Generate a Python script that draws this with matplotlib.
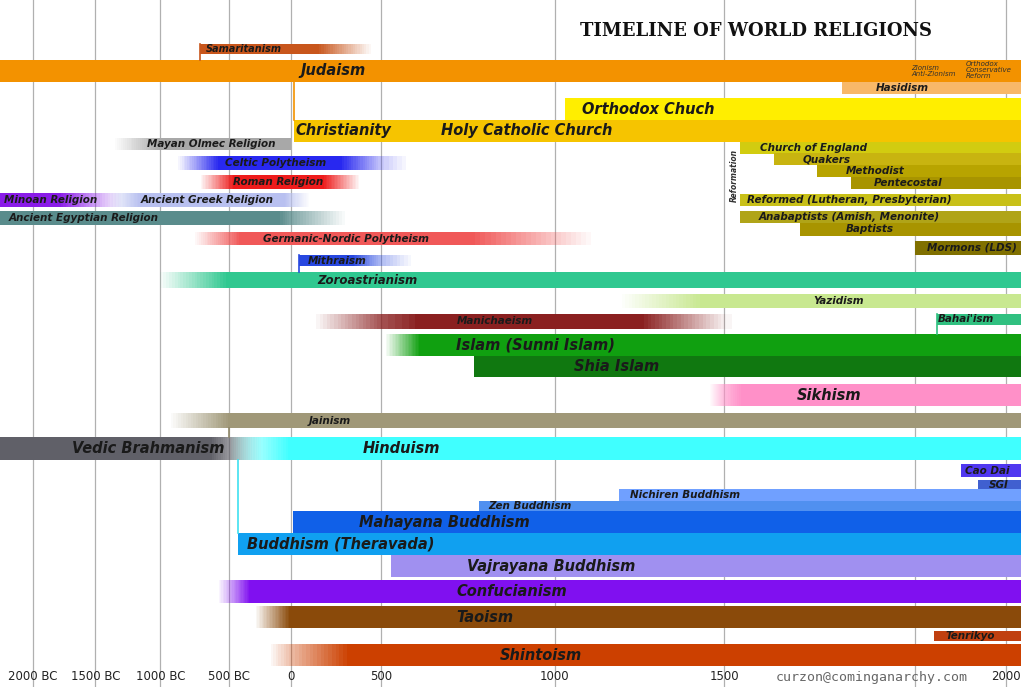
import numpy as np
import matplotlib.pyplot as plt

# ---------------------------------------------------------
# x scale of the original is piecewise linear
# ---------------------------------------------------------
knot_years = [-2266, -2000, -1500, -1000, -500, 0, 500, 1000, 1500, 1800, 2000, 2040]
knot_pos = [0, 33, 95, 160, 228, 290, 380, 553, 722, 912, 1003, 1021]

tick_years = [-2000, -1500, -1000, -500, 0, 500, 1000, 1500, 2000]
tick_labels = ["2000 BC", "1500 BC", "1000 BC", "500 BC", "0", "500", "1000", "1500", "2000"]
grid_years = [-2000, -1500, -1000, -500, 0, 500, 1000, 1500, 1800, 2000]

# ---------------------------------------------------------
# bars: name, start, end, row top, row height, colour, fade in, fade out
# ---------------------------------------------------------
names = ["Samaritanism", "Judaism", "Hasidism", "Orthodox Chuch", "Holy Catholic Church",
         "Mayan Olmec Religion", "Church of England", "Celtic Polytheism", "Quakers", "Methodist",
         "Roman Religion", "Pentecostal", "Minoan Religion", "Ancient Greek Religion",
         "Reformed (Lutheran, Presbyterian)", "Ancient Egyptian Religion",
         "Anabaptists (Amish, Menonite)", "Baptists", "Germanic-Nordic Polytheism",
         "Mormons (LDS)", "Mithraism", "Zoroastrianism", "Yazidism", "Manichaeism", "Bahai'ism",
         "Islam (Sunni Islam)", "Shia Islam", "Sikhism", "Jainism", "Vedic Brahmanism", "Hinduism",
         "Cao Dai", "SGI", "Nichiren Buddhism", "Zen Buddhism", "Mahayana Buddhism",
         "Buddhism (Theravada)", "Vajrayana Buddhism", "Confucianism", "Taoism", "Tenrikyo",
         "Shintoism"]
E = 2033
starts = [-713, -2266, 1686, 1030, 17, -1346, 1525, -868, 1579, 1647, -706, 1699, -2266, -1400,
          1525, -2266, 1525, 1620, -750, 1800, 44, -1000, 1198, 139, 1848, 514, 769, 1459, -926,
          -2266, -484, 1901, 1938, 1189, 783, 11, -427, 529, -574, -282, 1842, -161]
ends = [444, E, E, E, E, 0, E, 572, E, E, 378, E, -1300, 100, E, 300,
        E, E, 1107, E, 587, E, E, 1513, E, E, E, E, E, -242, E,
        E, E, E, E, E, E, E, E, E, E, E]
tops = [44, 60, 82, 98, 120, 138, 142, 156, 153, 165, 175, 177, 193, 193, 194, 211, 211, 223, 232,
        241, 255, 272, 294, 314, 314, 334, 356, 384, 413, 437, 437, 464, 480, 489, 501, 511, 533,
        555, 580, 606, 631, 644]
heights = [10, 22, 12, 22, 22, 12, 12, 14, 12, 12, 14, 12, 14, 14, 12, 14, 12, 13, 13, 14, 11, 16,
           14, 15, 11, 22, 21, 22, 15, 23, 23, 13, 11, 12, 10, 22, 22, 22, 23, 22, 10, 22]
colors = ["#c8561c", "#f39200", "#f8b868", "#ffee00", "#f6c400", "#a8a8a8", "#d2cc10", "#2828f0",
          "#c8b410", "#b8a400", "#ee1c1c", "#a89400", "#8a1ce8", "#b8c0f0", "#c8c018", "#5a8c8c",
          "#b0a418", "#a89400", "#f05858", "#807000", "#2848e0", "#30c890", "#c8e890", "#8a2020",
          "#30c080", "#10a010", "#107810", "#ff90c8", "#a09878", "#606068", "#40ffff", "#5038f0",
          "#4060d0", "#70a0ff", "#5090f0", "#1060e8", "#10a0f0", "#a090f0", "#8010f0", "#8a4a0a",
          "#c04010", "#cc4000"]
fade_in = [0, 0, 0, 0, 0, 350, 0, 300, 0, 0, 250, 0, 0, 250, 0, 0, 0, 0, 350, 0, 0, 500, 240,
           480, 0, 100, 0, 70, 440, 0, 484, 0, 0, 0, 0, 0, 0, 0, 250, 280, 0, 490]
fade_out = [300, 0, 0, 0, 0, 0, 0, 300, 0, 0, 200, 0, 500, 150, 0, 400, 0, 0, 350, 0, 250, 0, 0,
            260, 0, 0, 0, 0, 0, 400, 0, 0, 0, 0, 0, 0, 0, 0, 0, 0, 0, 0]
label_x = [-669, 55, 1738, 1080, 673, -1100, 1557, -530, 1623, 1691, -468, 1735, -2230, -1150,
           1536, -2200, 1555, 1691, -226, 1826, 94, 144, 1640, 717, 1850, 717, 1056, 1615, 100,
           -1685, 400, 1910, 1962, 1222, 809, 378, -355, 748, 717, 717, 1868, 843]
label_size = [7, 10.5, 7.5, 10.5, 10.5, 7.5, 7.5, 7.5, 7.5, 7.5, 7.5, 7.5, 7.5, 7.5, 7.5, 7.5,
              7.5, 7.5, 7.5, 7.5, 7.5, 8.5, 7.5, 7.5, 7.5, 10.5, 10.5, 10.5, 7.5, 10.5, 10.5,
              7.5, 7.5, 7.5, 7.5, 10.5, 10.5, 10.5, 10.5, 10.5, 7.5, 10.5]

# vertical connector lines: year, top row, bottom row, colour
link_years = [-713, 17, 44, 1848, -427, -500]
link_top = [44, 82, 255, 314, 460, 428]
link_bottom = [60, 120, 272, 334, 533, 437]
link_colors = ["#c8561c", "#f39200", "#2848e0", "#30c080", "#40e0f0", "#908868"]


def fwd(x):
    return np.interp(x, knot_years, knot_pos)


def inv(x):
    return np.interp(x, knot_pos, knot_years)


fig = plt.figure(figsize=(10.24, 6.87), dpi=100)
ax = fig.add_axes([0, 0, 1, 1])
ax.set_xscale("function", functions=(fwd, inv))
ax.set_xlim(-2266, 2040)
ax.set_ylim(687, 0)

for g in grid_years:
    ax.axvline(g, color="#b0b0b0", lw=0.9, zorder=0)

steps = 24
for i in range(len(names)):
    s, e = starts[i], ends[i]
    y = tops[i] + heights[i] / 2
    fi, fo = fade_in[i], fade_out[i]
    solid_s, solid_e = s + fi, e - fo
    if solid_e > solid_s:
        ax.barh(y, solid_e - solid_s, left=solid_s, height=heights[i], color=colors[i], lw=0, zorder=2)
    if fi > 0:
        edges = np.linspace(s, s + fi, steps + 1)
        for k in range(steps):
            ax.barh(y, edges[k + 1] - edges[k], left=edges[k], height=heights[i], color=colors[i],
                    alpha=(k + 1) / steps, lw=0, zorder=2)
    if fo > 0:
        edges = np.linspace(e - fo, e, steps + 1)
        for k in range(steps):
            ax.barh(y, edges[k + 1] - edges[k], left=edges[k], height=heights[i], color=colors[i],
                    alpha=1 - k / steps, lw=0, zorder=2)

for i in range(len(names)):
    if names[i] == "Holy Catholic Church":
        ax.text(28, tops[i] + heights[i] / 2, "Christianity", fontsize=10.5, fontweight="bold",
                fontstyle="italic", color="#1a1a1a", va="center", zorder=5)
    ax.text(label_x[i], tops[i] + heights[i] / 2, names[i], fontsize=label_size[i],
            fontweight="bold", fontstyle="italic", color="#1a1a1a", va="center", zorder=5)

for i in range(len(link_years)):
    ax.plot([link_years[i], link_years[i]], [link_top[i], link_bottom[i]], color=link_colors[i],
            lw=1.2, zorder=3)

# small notes on Judaism bar
ax.text(1795, 71, "Zionism\nAnti-Zionism", fontsize=5, fontstyle="italic", color="#303030",
        va="center", linespacing=1.1, zorder=5)
ax.text(1912, 70, "Orthodox\nConservative\nReform", fontsize=5, fontstyle="italic", color="#303030",
        va="center", linespacing=1.0, zorder=5)
ax.text(1516, 175, "Reformation", fontsize=5.5, fontstyle="italic", fontweight="bold",
        rotation=90, color="#303030", ha="center", va="center", zorder=5)

ax.text(0.738, 0.955, "TIMELINE OF WORLD RELIGIONS", transform=ax.transAxes, fontsize=13,
        fontweight="bold", family="DejaVu Serif", ha="center", va="center", color="#111111")
ax.text(0.945, 0.004, "curzon@cominganarchy.com", transform=ax.transAxes, fontsize=9.5,
        family="DejaVu Sans Mono", ha="right", va="bottom", color="#666666")

ax.set_xticks(tick_years)
ax.set_xticklabels(tick_labels)
ax.tick_params(axis="x", direction="in", length=0, pad=-12, labelsize=8.5, labelcolor="#222222")
ax.set_yticks([])
for sp in ax.spines.values():
    sp.set_visible(False)

plt.savefig("out.png", dpi=100)
